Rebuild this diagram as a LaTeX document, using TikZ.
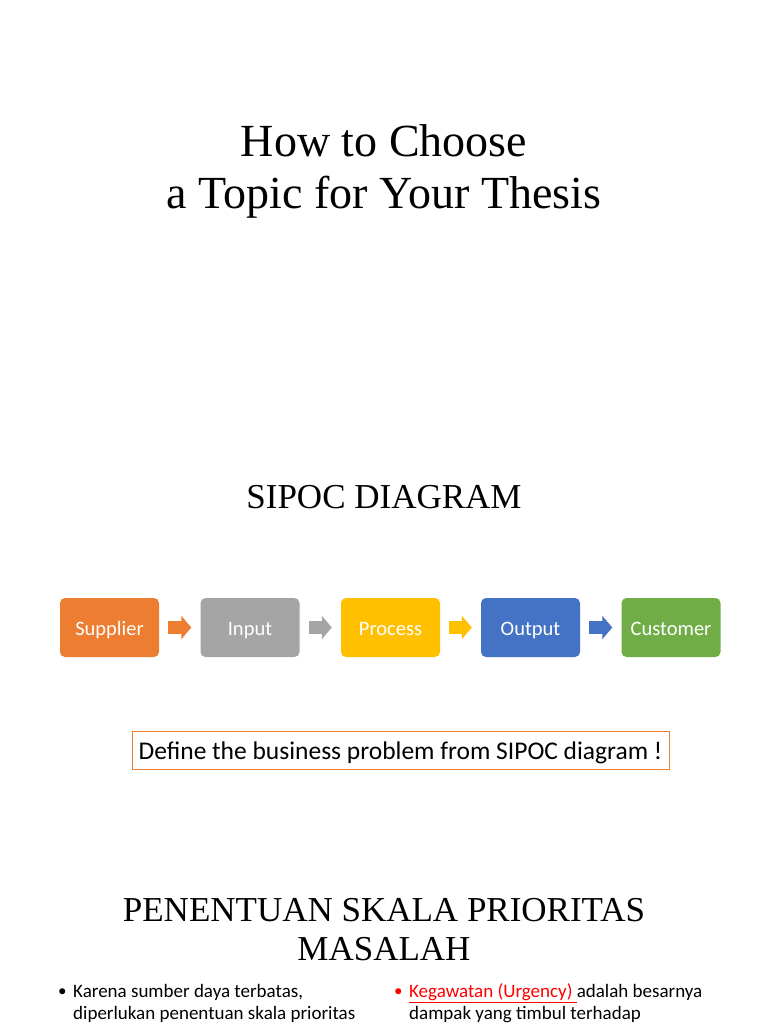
\documentclass[tikz,border=0pt]{standalone}
\usepackage{fontspec}
\setmainfont{Liberation Serif}
\newfontfamily\bodyfont{Carlito}
\usepackage{tikz}
\usetikzlibrary{arrows.meta}
\definecolor{sOrange}{HTML}{ED7D31}
\definecolor{sGray}{HTML}{A5A5A5}
\definecolor{sGold}{HTML}{FFC000}
\definecolor{sBlue}{HTML}{4472C4}
\definecolor{sGreen}{HTML}{70AD47}
\definecolor{sRed}{HTML}{FF0000}
\begin{document}
\begin{tikzpicture}[x=1pt,y=-1pt]
    \tikzstyle{sipoc box}=[rounded corners=5pt,minimum width=99pt,minimum height=59pt,inner sep=0pt,text height=16pt,text depth=1pt,text=white,font=\bodyfont\fontsize{20.5}{24}\selectfont]
    \tikzstyle{block arrow}=[line width=13pt,-{Triangle[width=23pt,length=10pt]},shorten <=9pt,shorten >=9pt]
    \tikzstyle{heading}=[align=center,inner sep=0pt]
    \tikzstyle{bullet text}=[align=left,inner sep=0pt,anchor=base west,font=\bodyfont\fontsize{19}{21.5}\selectfont]
    \tikzstyle{bullet dot}=[inner sep=0pt,anchor=base west,font=\bodyfont\fontsize{17}{22}\selectfont]
    \useasboundingbox (0,0) rectangle (768,1024);
    \node[heading,anchor=base,font=\fontsize{46}{52}\selectfont] (Title) at (384,209) {How to Choose\\a Topic for Your Thesis};
    \node[heading,anchor=base,font=\fontsize{35}{39}\selectfont] (Sipoc) at (384,508) {SIPOC DIAGRAM};
    \node[sipoc box,fill=sOrange] (Supplier) at (109.5,627.5) {Supplier};
    \node[sipoc box,fill=sGray] (Input) at (250,627.5) {Input};
    \node[sipoc box,fill=sGold] (Process) at (390.5,627.5) {Process};
    \node[sipoc box,fill=sBlue] (Output) at (530.5,627.5) {Output};
    \node[sipoc box,fill=sGreen] (Customer) at (671,627.5) {Customer};
    \draw [block arrow, sOrange] (Supplier) -- (Input);
    \draw [block arrow, sGray] (Input) -- (Process);
    \draw [block arrow, sGold] (Process) -- (Output);
    \draw [block arrow, sBlue] (Output) -- (Customer);
    \node[draw=sOrange,line width=0.8pt,minimum width=537pt,minimum height=38pt,text height=20pt,text depth=1pt,font=\bodyfont\fontsize{25.5}{30}\selectfont] (Define) at (400.5,750) {Define the business problem from SIPOC diagram !};
    \node[heading,anchor=base,font=\fontsize{35}{39}\selectfont] (Skala) at (384,960) {PENENTUAN SKALA PRIORITAS\\MASALAH};
    \node[bullet dot] (LeftDot) at (58,996) {\textbullet};
    \node[bullet text] (LeftText) at (73,1019) {Karena sumber daya terbatas,\\diperlukan penentuan skala prioritas};
    \node[bullet dot,text=sRed] (RightDot) at (394,996) {\textbullet};
    \node[bullet text] (RightText) at (409,1019) {{\color{sRed}\underline{Kegawatan (Urgency) }}adalah besarnya\\dampak yang timbul terhadap};
\end{tikzpicture}
\end{document}
